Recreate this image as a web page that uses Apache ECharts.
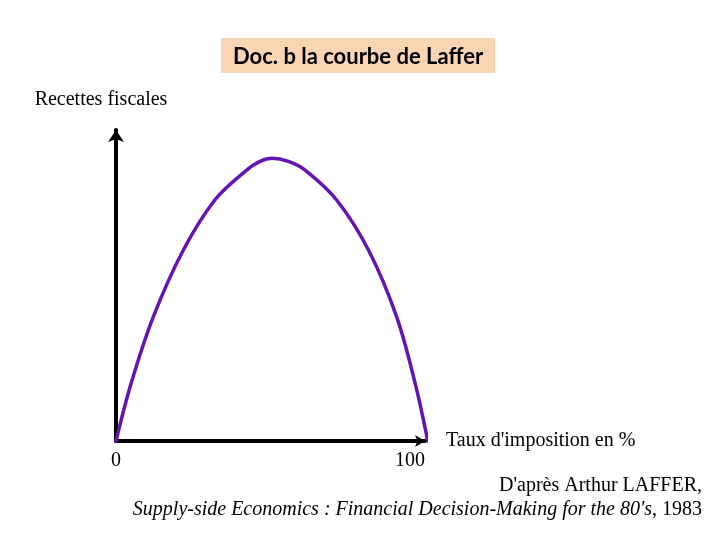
<!DOCTYPE html>
<html>
<head>
<meta charset="utf-8">
<script src="https://cdn.jsdelivr.net/npm/echarts@6/dist/echarts.min.js"></script>
<style>html,body{margin:0;padding:0;background:#fff}#c{width:720px;height:540px}</style>
</head>
<body>
<div id="c"></div>
<script>
// Laffer curve (tax rate %, fiscal revenue, arbitrary units 0-100)
var taxRate = [0, 4.9, 12.1, 21.8, 32.0, 42.3, 46.6, 50.5, 55.8, 61.2, 71.4, 81.7, 90.8, 96.8, 100.9];
var revenue = [0, 18.6, 40.0, 61.4, 77.5, 87.1, 89.9, 90.9, 89.9, 87.1, 77.5, 61.4, 40.0, 18.6, 0];
var xTickLabels = ['0', '100'];
var titleText = 'Doc. b la courbe de Laffer';
var yName = 'Recettes fiscales';
var xName = "Taux d'imposition en %";
var sourceLine1 = "D'après Arthur LAFFER,";
var sourceItalic = "Supply-side Economics : Financial Decision-Making for the 80's";
var sourceYear = ', 1983';

var chart = echarts.init(document.getElementById('c'));
var pts = taxRate.map(function (x, i) { return [x, revenue[i]]; });
var serif = '"Liberation Serif", "DejaVu Serif", serif';
chart.setOption({
  animation: false,
  backgroundColor: '#fff',
  title: {
    text: titleText,
    left: 221, top: 38,
    padding: [7, 12, 4, 12],
    backgroundColor: '#FBD4B4',
    textStyle: { fontFamily: 'Lato, "Open Sans", sans-serif', fontWeight: 'bold', fontSize: 22, color: '#000', lineHeight: 24 }
  },
  graphic: [{
    type: 'text', right: 18, top: 476,
    style: { text: sourceLine1, font: '20px ' + serif, fill: '#000', align: 'right' }
  }, {
    type: 'text', right: 18, top: 500,
    style: {
      text: '{i|' + sourceItalic + '}' + sourceYear,
      font: '20px ' + serif, fill: '#000', align: 'right',
      rich: { i: { fontFamily: serif, fontStyle: 'italic', fontSize: 20, fill: '#000' } }
    }
  }],
  grid: { left: 116, right: 295, top: 130, bottom: 99 },
  xAxis: {
    type: 'value', min: 0, max: 100, interval: 100,
    name: xName, nameLocation: 'end', nameGap: 21,
    nameTextStyle: { fontFamily: serif, fontSize: 20, color: '#000', align: 'left', verticalAlign: 'middle', padding: [0, 0, 22, 0] },
    axisLine: { show: true, onZero: false, symbol: ['none', 'arrow'], symbolSize: [9, 10], lineStyle: { color: '#000', width: 4 } },
    axisTick: { show: false },
    splitLine: { show: false },
    axisLabel: {
      margin: 10, fontFamily: serif, fontSize: 20, color: '#000',
      alignMinLabel: 'center', alignMaxLabel: 'right',
      formatter: function (v) { return v === 0 ? xTickLabels[0] : (v === 100 ? xTickLabels[1] : ''); }
    }
  },
  yAxis: {
    type: 'value', min: 0, max: 100,
    name: yName, nameLocation: 'end', nameGap: 20,
    nameTextStyle: { fontFamily: serif, fontSize: 20, color: '#000', align: 'center', verticalAlign: 'bottom', padding: [0, 30, 0, 0] },
    axisLine: { show: true, onZero: false, symbol: ['none', 'arrow'], symbolSize: [12, 12], lineStyle: { color: '#000', width: 4 } },
    axisTick: { show: false },
    splitLine: { show: false },
    axisLabel: { show: false }
  },
  series: [{
    type: 'line',
    data: pts,
    smooth: 0.35,
    showSymbol: false,
    clip: false,
    lineStyle: { color: '#6414B4', width: 3.5, join: 'round', cap: 'round' }
  }]
});
</script>
</body>
</html>
